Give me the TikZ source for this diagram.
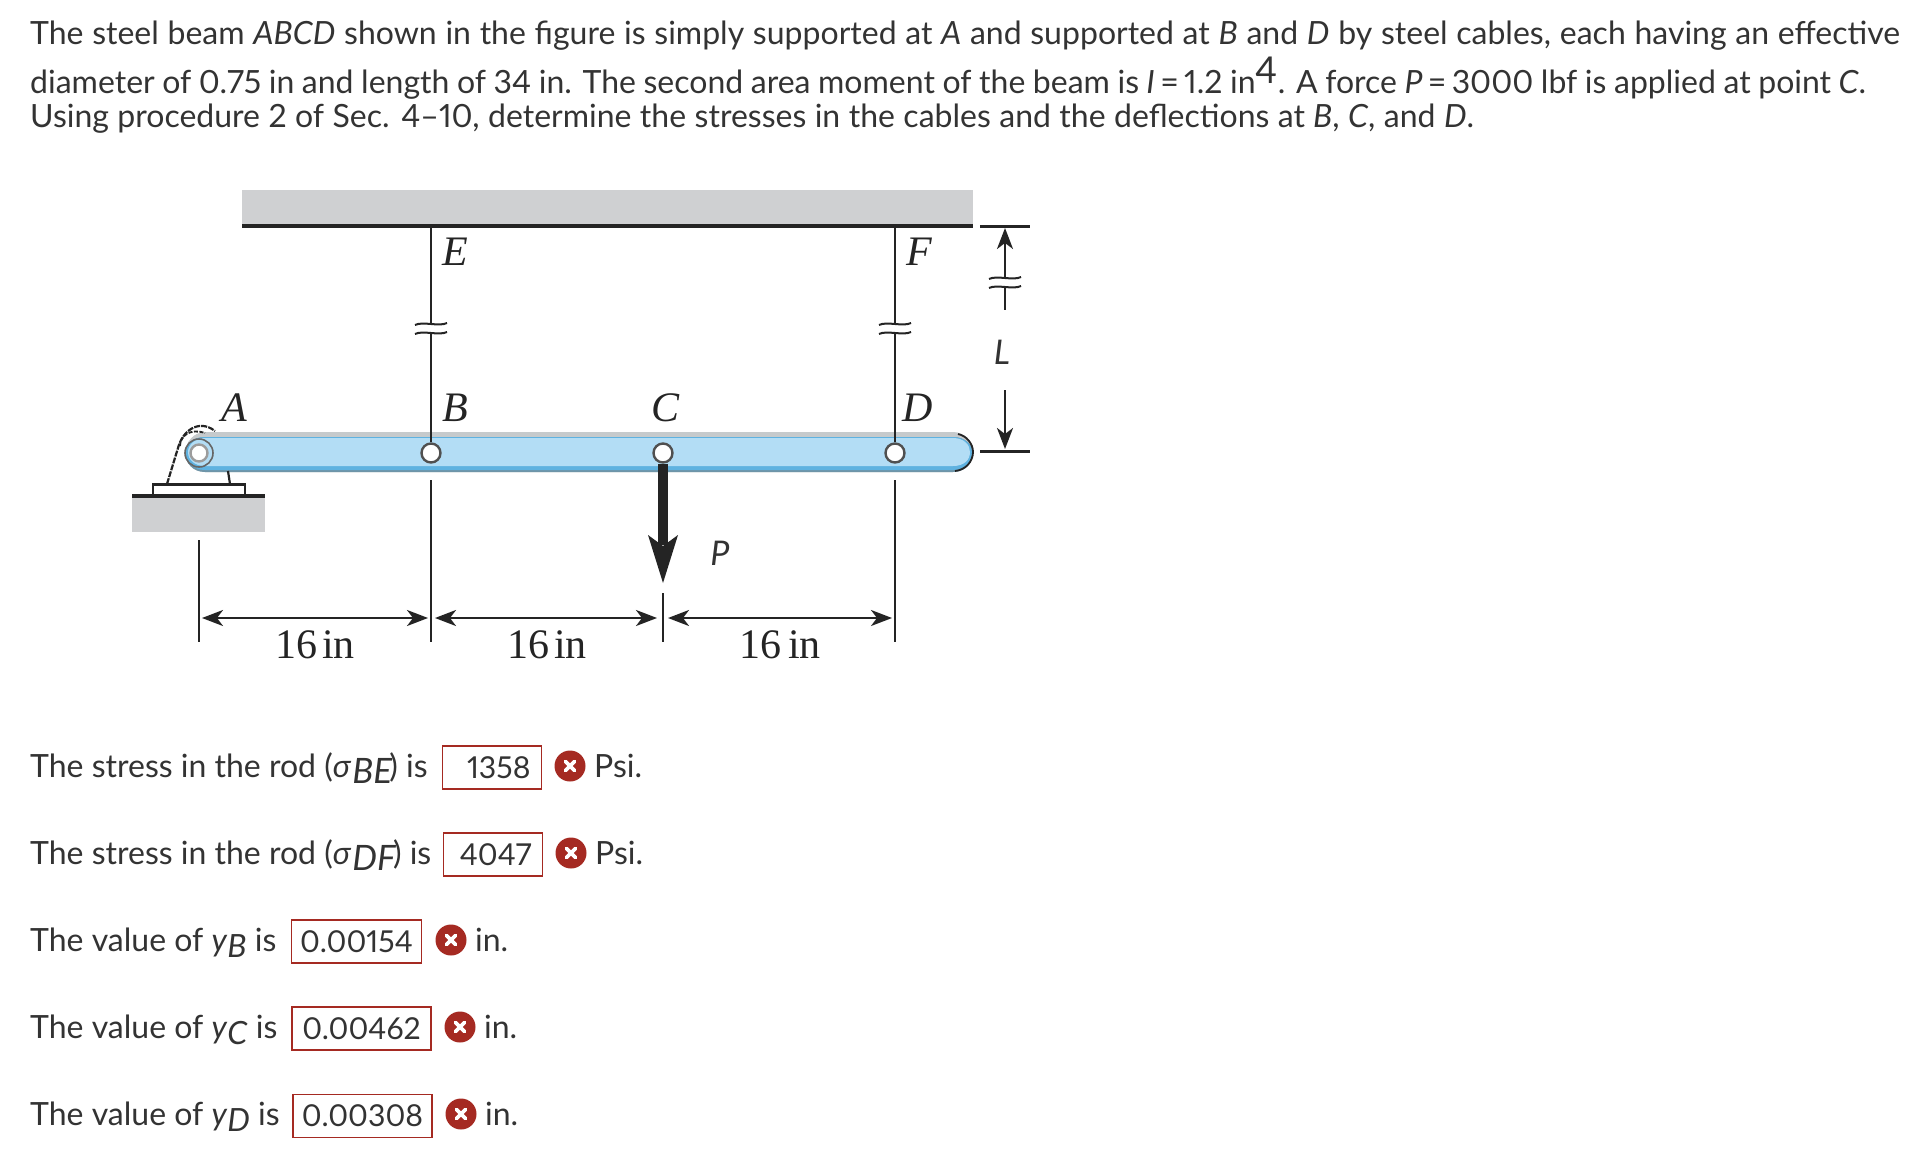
\documentclass[tikz,border=0pt]{standalone}
\usepackage{fontspec}
\usetikzlibrary{arrows.meta}
\setmainfont[Numbers=Proportional]{Lato}
\newfontfamily\figfont{Liberation Serif}
\definecolor{txt}{HTML}{333333}
\definecolor{ink}{HTML}{242424}
\definecolor{wall}{HTML}{CFD0D2}
\definecolor{beamblue}{HTML}{B3DDF5}
\definecolor{beamlow}{HTML}{5FB2E0}
\definecolor{beamedge}{HTML}{6F95A8}
\definecolor{beamtop}{HTML}{C6CACC}
\definecolor{wrong}{HTML}{A52A22}
\newcommand{\lowsub}[1]{\raisebox{-6pt}{\textit{#1}}}
\newcommand{\lowsubbig}[1]{\raisebox{-6pt}{\fontsize{35}{35}\selectfont\textit{#1}}}
\tikzset{
  x=1pt,y=-1pt,
  body/.style={anchor=base west,inner sep=0pt,text=txt,font=\fontsize{32}{32}\selectfont},
  figlab/.style={inner sep=0pt,text=ink,font=\figfont\itshape\fontsize{42}{42}\selectfont},
  dimlab/.style={inner sep=0pt,text=ink,font=\figfont\fontsize{42}{42}\selectfont},
  sanslab/.style={inner sep=0pt,text=txt,font=\itshape\fontsize{34}{34}\selectfont},
  thin line/.style={draw=ink,line width=2.3pt},
  dimtip/.tip={Stealth[length=21pt,width=16pt,inset=6pt]},
  dim tip/.style={dimtip-dimtip},
  ansbox/.style={draw=wrong,line width=1.8pt,inner sep=0pt,minimum height=43pt,text=txt,font=\fontsize{30.2}{30.2}\selectfont},
  crossmark/.style={circle,fill=wrong,inner sep=0pt,minimum size=31pt,
    path picture={\draw[white,line width=3.8pt,line cap=round]
      ([shift={(-4.5pt,-4.5pt)}]path picture bounding box.center) -- ([shift={(4.5pt,4.5pt)}]path picture bounding box.center)
      ([shift={(-4.5pt,4.5pt)}]path picture bounding box.center) -- ([shift={(4.5pt,-4.5pt)}]path picture bounding box.center);}},
  pin/.style={circle,fill=white,draw=ink!80,line width=2.4pt,minimum size=19pt,inner sep=0pt},
}
\begin{document}
\begin{tikzpicture}
\useasboundingbox (0,0) rectangle (1924,1156);
\fill[white] (0,0) rectangle (1924,1156);
% question text
\node[body] (q1) at (30,45) {\makebox[1870pt][s]{The steel beam \textit{ABCD} shown in the figure is simply supported at \textit{A} and supported at \textit{B} and \textit{D} by steel cables, each having an effective}};
\node[body] (q2) at (30,93) {\makebox[1836pt][s]{diameter of 0.75 in and length of 34 in. The second area moment of the beam is \textit{I}\,=\,1.2 in\raisebox{10pt}{\fontsize{37}{37}\selectfont 4}. A force \textit{P}\,=\,3000 lbf is applied at point \textit{C}.}};
\node[body] (q3) at (30,127) {\makebox[1444pt][s]{Using procedure 2 of Sec. 4--10, determine the stresses in the cables and the deflections at \textit{B}, \textit{C}, and \textit{D}.}};
% ceiling and floor
\fill[wall] (242,190) rectangle (973,226);
\coordinate (ceilL) at (242,226); \coordinate (ceilR) at (973,226);
\draw[ink,line width=3.4pt] (ceilL) -- (ceilR);
\fill[wall] (132,496) rectangle (265,532);
\coordinate (floorL) at (132,496); \coordinate (floorR) at (265,496);
\draw[ink,line width=3.2pt] (floorL) -- (floorR);
\draw[ink,line width=2.8pt] (153,496) -- (153,484.5) -- (245,484.5) -- (245,496);
% beam
\fill[beamtop] (205,432) -- (953,432) .. controls (965,432) and (973,442) .. (973,452) .. controls (973,463) and (965,472) .. (953,472) -- (205,472) .. controls (193,472) and (185,463) .. (185,452) .. controls (185,442) and (193,432) .. (205,432) -- cycle;
\fill[beamedge] (205,437) -- (953,437) .. controls (965,437) and (973,445) .. (973,452) .. controls (973,463) and (965,472) .. (953,472) -- (205,472) .. controls (193,472) and (185,463) .. (185,452) .. controls (185,445) and (193,437) .. (205,437) -- cycle;
\fill[beamlow] (205,437) -- (953,437) .. controls (965,437) and (972,445) .. (972,452) .. controls (972,462) and (965,470) .. (953,470) -- (205,470) .. controls (193,470) and (186,462) .. (186,452) .. controls (186,445) and (193,437) .. (205,437) -- cycle;
\fill[beamblue] (205,438) -- (953,438) .. controls (964,438) and (970,445) .. (970,452) .. controls (970,460) and (964,466) .. (953,466) -- (205,466) .. controls (195,466) and (188,460) .. (188,452) .. controls (188,445) and (195,438) .. (205,438) -- cycle;
\draw[ink,line width=1.8pt] (958,434) .. controls (967,436) and (973,444) .. (973,452) .. controls (973,461) and (966,470) .. (955,471);
% support linkage at A
\fill[white] (181,425) -- (215,425) -- (215,431) -- (205,432) .. controls (193,432) and (186,442) .. (185,452) -- (175,452) -- cycle;
\draw[ink,line width=2.2pt,dash pattern=on 6pt off 1.2pt] (167,484) -- (178,448) .. controls (182,432) and (198,418) .. (215,431);
\draw[ink,line width=1.8pt,dash pattern=on 4pt off 1.5pt] (180,446) .. controls (180,436) and (190,428) .. (205,433);
\draw[ink,line width=2.2pt] (228,471) -- (230,484);
% pins
\node[circle,draw=ink!70,line width=1.6pt,minimum size=28pt,inner sep=0pt] (Aring) at (199,453) {};
\node[pin,draw=ink!45,minimum size=17pt] (pA) at (199,453) {};
\coordinate (E) at (431,226); \coordinate (F) at (895,226);
\coordinate (BE1) at (431,324); \coordinate (BE2) at (431,333);
\coordinate (DF1) at (895,324); \coordinate (DF2) at (895,333);
\draw[thin line] (E) -- (BE1);
\draw[thin line] (F) -- (DF1);
\node[pin] (pB) at (431,453) {};
\node[pin] (pC) at (663,453) {};
\node[pin] (pD) at (895,453) {};
\draw[thin line] (BE2) -- (pB);
\draw[thin line] (DF2) -- (pD);
% break marks
\foreach \cx/\yy in {431/324,895/324,1005/278}{
  \pgfmathsetmacro{\yz}{\yy+9}
  \draw[ink,line width=2pt] (\cx-16,\yy+1) .. controls (\cx-8,\yy-3) and (\cx+8,\yy+3) .. (\cx+16,\yy-1);
  \draw[ink,line width=2pt] (\cx-16,\yz+1) .. controls (\cx-8,\yz-3) and (\cx+8,\yz+3) .. (\cx+16,\yz-1);
}
% load P
\coordinate (Ptip) at (663,583);
\draw[ink,line width=9.5pt] (pC.south) -- (663,545);
\fill[ink] (Ptip) -- (648,535) -- (663,546) -- (678,535) -- cycle;
% extension lines
\coordinate (xA1) at (199,540); \coordinate (xA2) at (199,642);
\coordinate (xB1) at (431,480); \coordinate (xB2) at (431,642);
\coordinate (xC1) at (663,593); \coordinate (xC2) at (663,642);
\coordinate (xD1) at (895,480); \coordinate (xD2) at (895,642);
\draw[thin line] (xA1) -- (xA2);
\draw[thin line] (xB1) -- (xB2);
\draw[thin line] (xC1) -- (xC2);
\draw[thin line] (xD1) -- (xD2);
% dimensions
\coordinate (dA) at (202,618); \coordinate (dB1) at (428,618);
\coordinate (dB2) at (435,618); \coordinate (dC1) at (657,618);
\coordinate (dC2) at (668,618); \coordinate (dD) at (892,618);
\draw[thin line,dim tip] (dA) -- (dB1);
\draw[thin line,dim tip] (dB2) -- (dC1);
\draw[thin line,dim tip] (dC2) -- (dD);
\node[dimlab] (d1) at (315,645) {16\kern5pt in};
\node[dimlab] (d2) at (547,645) {16\kern5pt in};
\node[dimlab] (d3) at (780,645) {16\kern7pt in};
% L dimension
\coordinate (Lt1) at (980,226); \coordinate (Lt2) at (1030,226);
\coordinate (Lb1) at (980,451); \coordinate (Lb2) at (1030,451);
\draw[ink,line width=3pt] (Lt1) -- (Lt2);
\draw[ink,line width=3pt] (Lb1) -- (Lb2);
\coordinate (La) at (1005,228); \coordinate (Lc) at (1005,278);
\coordinate (Ld) at (1005,287); \coordinate (Le) at (1005,310);
\coordinate (Lf) at (1005,390); \coordinate (Lg) at (1005,449);
\draw[thin line,dimtip-] (La) -- (Lc);
\draw[thin line] (Ld) -- (Le);
\draw[thin line,-dimtip] (Lf) -- (Lg);
% figure labels
\node[figlab] (lA) at (234,408) {A};
\node[figlab] (lB) at (455,408) {B};
\node[figlab] (lC) at (665,408) {C};
\node[figlab] (lD) at (918,408) {D};
\node[figlab] (lE) at (455,252) {E};
\node[figlab] (lF) at (919,252) {F};
\node[sanslab] (lP) at (720,553) {P};
\node[sanslab] (lL) at (1002,352) {L};
% answers
\node[body] (r1) at (30,777) {The stress in the rod (\textit{σ}\kern1pt\lowsubbig{BE}\kern-3pt) is};
\node[ansbox,minimum width=99pt] (b1) at (492,767.5) {\makebox[77pt][r]{1358}};
\node[crossmark] (x1) at (570,766) {};
\node[body] (u1) at (594,777) {Psi.};
\node[body] (r2) at (30,864) {The stress in the rod (\textit{σ}\kern1pt\lowsubbig{DF}\kern-3pt) is};
\node[ansbox,minimum width=99pt] (b2) at (493,854.5) {\makebox[77pt][r]{4047}};
\node[crossmark] (x2) at (571,853) {};
\node[body] (u2) at (595,864) {Psi.};
\node[body] (r3) at (30,951) {The value of \textit{y}\lowsub{B} is};
\node[ansbox,minimum width=130pt] (b3) at (356.5,941.5) {0.00154};
\node[crossmark] (x3) at (451,940) {};
\node[body] (u3) at (475,951) {in.};
\node[body] (r4) at (30,1038) {The value of \textit{y}\lowsub{C} is};
\node[ansbox,minimum width=139pt] (b4) at (361.5,1028.5) {0.00462};
\node[crossmark] (x4) at (460,1027) {};
\node[body] (u4) at (484,1038) {in.};
\node[body] (r5) at (30,1125) {The value of \textit{y}\lowsub{D} is};
\node[ansbox,minimum width=139pt] (b5) at (362.5,1116) {0.00308};
\node[crossmark] (x5) at (461,1114) {};
\node[body] (u5) at (485,1125) {in.};
\end{tikzpicture}
\end{document}
